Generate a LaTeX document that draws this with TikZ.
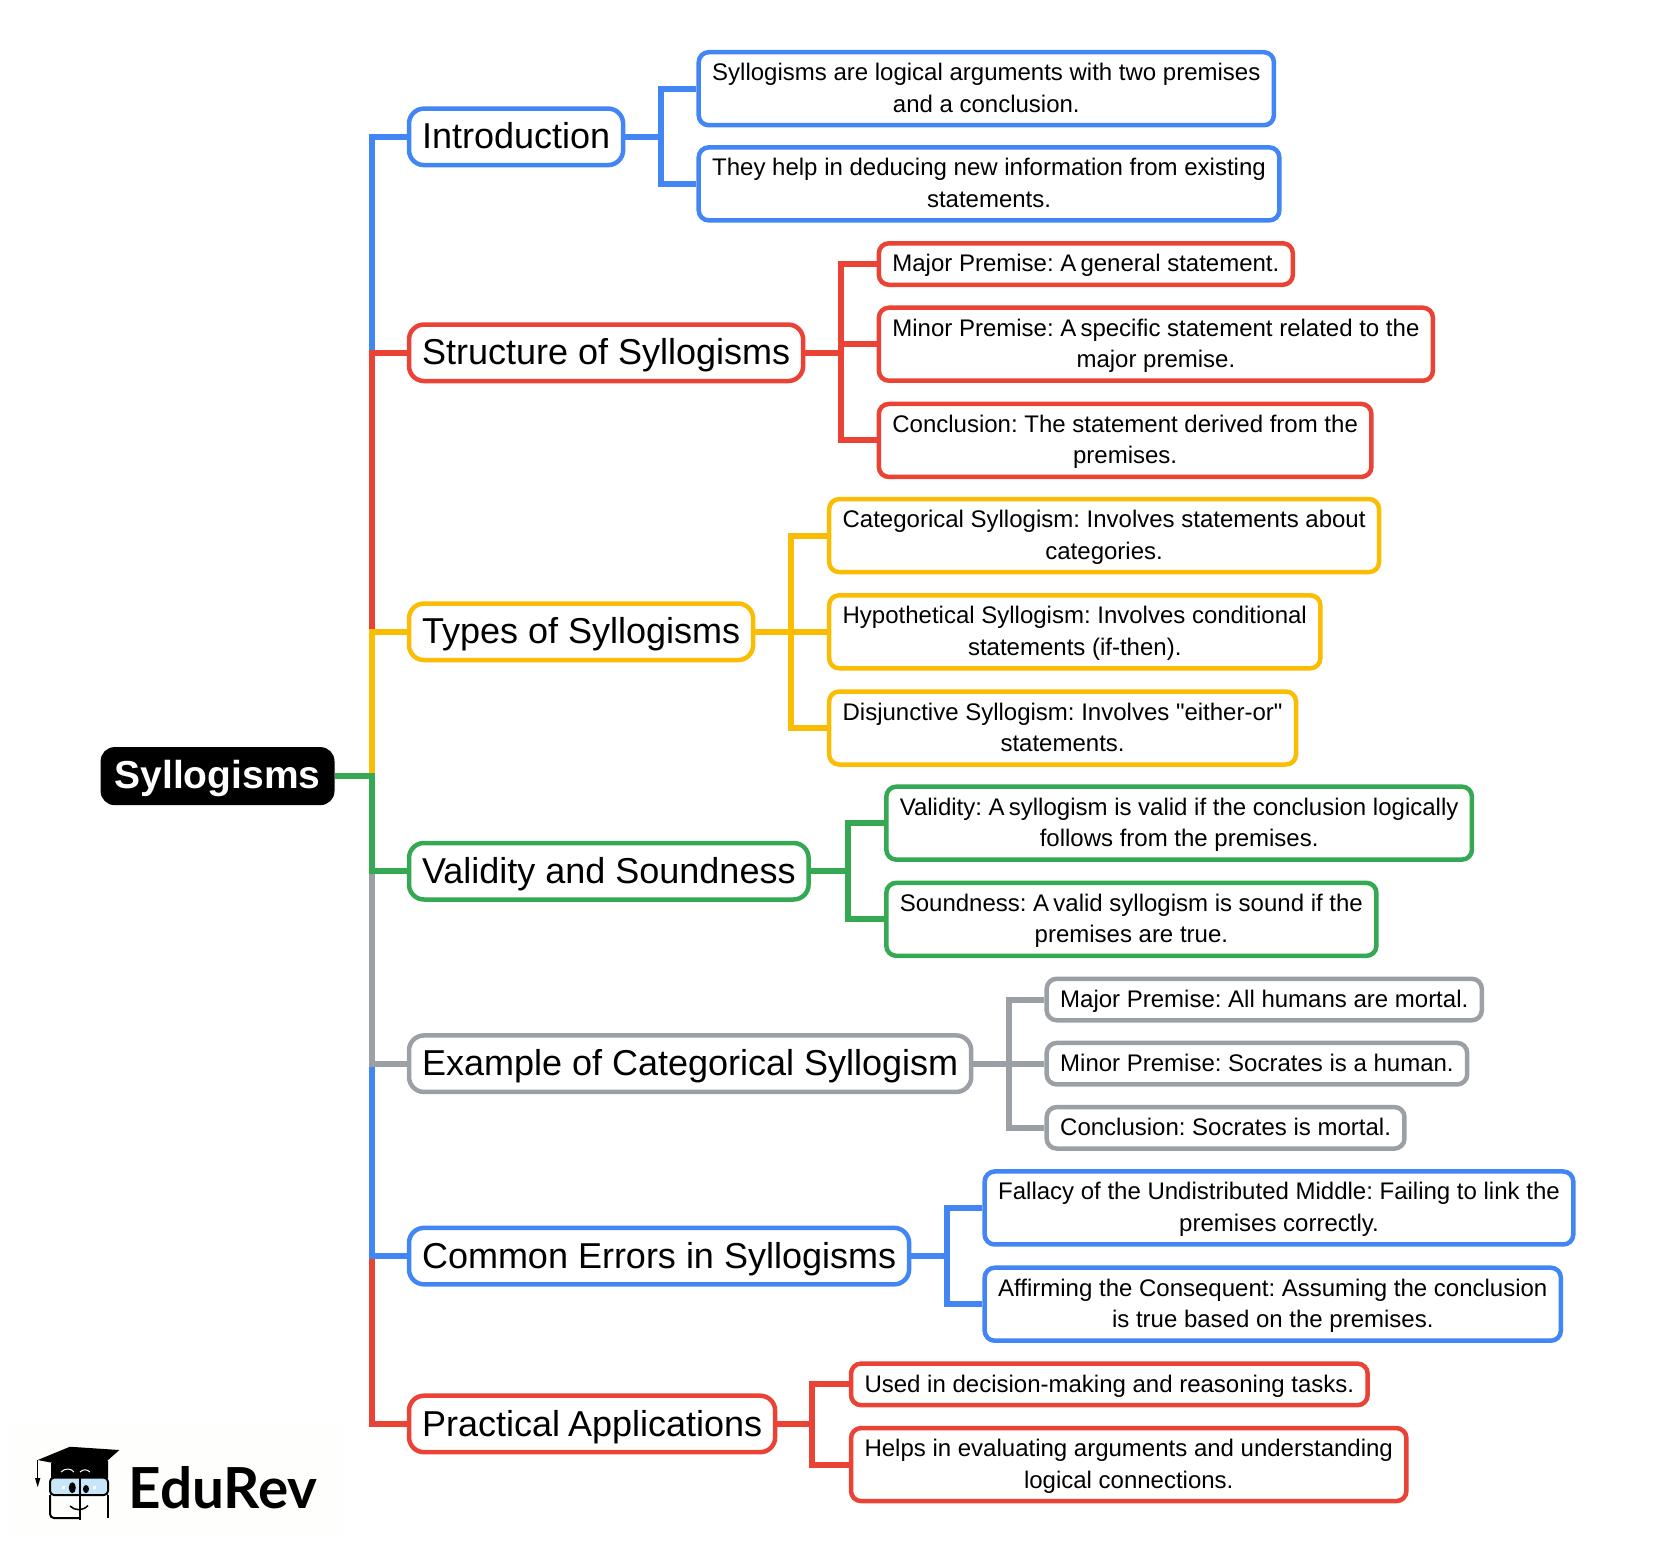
\documentclass[tikz,border=0pt]{standalone}
\usepackage{xcolor}
\usepackage{fontspec}
\setmainfont{Liberation Sans}[Ligatures=TeXOff]
\newfontfamily\logofont{Lato}
\usetikzlibrary{positioning, calc}
\definecolor{mapblue}{RGB}{66,133,244}
\definecolor{mapred}{RGB}{234,67,53}
\definecolor{mapyellow}{RGB}{251,188,4}
\definecolor{mapgreen}{RGB}{52,168,83}
\definecolor{mapgray}{RGB}{154,160,166}
\definecolor{logobg}{RGB}{254,254,253}
\definecolor{glass}{RGB}{200,230,248}
\newcommand{\leafstrut}{\rule[-8pt]{0pt}{31.5pt}}
\newcommand{\leaftext}[1]{\leafstrut #1\leafstrut}
\newcommand{\kernA}{\kern-2.5pt\ }
\tikzset{
  root/.style={rectangle, rounded corners=14pt, fill=black, text=white, inner xsep=14pt, inner ysep=0pt, minimum height=58pt, text height=30pt, text depth=5.4pt, font=\fontsize{39}{46}\selectfont\bfseries},
  head/.style={rectangle, rounded corners=15pt, draw=#1, fill=white, line width=4.5pt, anchor=west, inner xsep=13pt, inner ysep=0pt, minimum height=56.5pt, text height=30.5pt, text depth=6.3pt, font=\fontsize{36}{43}\selectfont},
  leaf/.style={rectangle, rounded corners=10pt, draw=#1, fill=white, line width=4.5pt, anchor=west, inner xsep=13.5pt, inner ysep=5pt, align=center, font=\fontsize{24}{31.5}\selectfont\frenchspacing},
  conn/.style={draw=#1, line width=6pt},
}
\begin{document}
\begin{tikzpicture}[x=1.069pt, y=-1.069pt]
\useasboundingbox (0,0) rectangle (1567.8,1452.8);

% Central node
\node[root] (center) at (203.5,726) {Syllogisms};

% Main topics
\node[head=mapblue] (intro) at (380.5,128) {Introduction};
\node[head=mapred] (struct) at (380.5,330) {Structure of Syllogisms};
\node[head=mapyellow] (types) at (380.5,591) {Types of Syllogisms};
\node[head=mapgreen] (valid) at (380.5,815) {Validity and Soundness};
\node[head=mapgray] (example) at (380.5,995) {Example of Categorical Syllogism};
\node[head=mapblue] (errors) at (380.5,1175) {Common Errors in Syllogisms};
\node[head=mapred] (apps) at (380.5,1332) {Practical \kern-2pt Applications};

% Details
\node[leaf=mapblue] (intro1) at (651.5,83) {\leaftext{Syllogisms are logical arguments with two premises\\and a conclusion.}};
\node[leaf=mapblue] (intro2) at (651.5,172) {\leaftext{They help in deducing new information from existing\\statements.}};

\node[leaf=mapred] (struct1) at (820,247) {\leaftext{Major Premise: A\kernA general statement.}};
\node[leaf=mapred] (struct2) at (820,322) {\leaftext{Minor Premise: A\kernA specific statement related to the\\major premise.}};
\node[leaf=mapred] (struct3) at (820,412) {\leaftext{Conclusion: The statement derived from the\\premises.}};

\node[leaf=mapyellow] (types1) at (773.5,501) {\leaftext{Categorical Syllogism: Involves statements about\\categories.}};
\node[leaf=mapyellow] (types2) at (773.5,591) {\leaftext{Hypothetical Syllogism: Involves conditional\\statements (if-then).}};
\node[leaf=mapyellow] (types3) at (773.5,681) {\leaftext{Disjunctive Syllogism: Involves "either-or"\\statements.}};

\node[leaf=mapgreen] (valid1) at (827,770) {\leaftext{Validity: A\kernA syllogism is valid if the conclusion logically\\follows from the premises.}};
\node[leaf=mapgreen] (valid2) at (827,860) {\leaftext{Soundness: A\kernA valid syllogism is sound if the\\premises are true.}};

\node[leaf=mapgray] (example1) at (977,935) {\leaftext{Major Premise: All humans are mortal.}};
\node[leaf=mapgray] (example2) at (977,995) {\leaftext{Minor Premise: Socrates is a human.}};
\node[leaf=mapgray] (example3) at (977,1055) {\leaftext{Conclusion: Socrates is mortal.}};

\node[leaf=mapblue] (errors1) at (919,1130) {\leaftext{Fallacy of the Undistributed Middle: Failing to link the\\premises correctly.}};
\node[leaf=mapblue] (errors2) at (919,1220) {\leaftext{Affirming the Consequent: Assuming the conclusion\\is true based on the premises.}};

\node[leaf=mapred] (apps1) at (794,1295) {\leaftext{Used in decision-making and reasoning tasks.}};
\node[leaf=mapred] (apps2) at (794,1370) {\leaftext{Helps in evaluating arguments and understanding\\logical connections.}};

% Trunk, the last colour drawn stays on top
\coordinate (trunk) at (348,726);
\draw[conn=mapblue] (center.east) -- (trunk) |- (intro.west);
\draw[conn=mapred] (center.east) -- (trunk) |- (struct.west);
\draw[conn=mapyellow] (center.east) -- (trunk) |- (types.west);
\draw[conn=mapred] (center.east) -- (trunk) |- (apps.west);
\draw[conn=mapblue] (center.east) -- (trunk) |- (errors.west);
\draw[conn=mapgray] (center.east) -- (trunk) |- (example.west);
\draw[conn=mapgreen] (center.east) -- (trunk) |- (valid.west);

% Branches
\coordinate (introspine) at (618,128);
\foreach \i in {1,2} \draw[conn=mapblue] (intro.east) -- (introspine) |- (intro\i.west);

\coordinate (structspine) at (787,330);
\foreach \i in {1,2,3} \draw[conn=mapred] (struct.east) -- (structspine) |- (struct\i.west);

\coordinate (typesspine) at (740,591);
\foreach \i in {1,2,3} \draw[conn=mapyellow] (types.east) -- (typesspine) |- (types\i.west);

\coordinate (validspine) at (793,815);
\foreach \i in {1,2} \draw[conn=mapgreen] (valid.east) -- (validspine) |- (valid\i.west);

\coordinate (examplespine) at (944,995);
\foreach \i in {1,2,3} \draw[conn=mapgray] (example.east) -- (examplespine) |- (example\i.west);

\coordinate (errorsspine) at (886,1175);
\foreach \i in {1,2} \draw[conn=mapblue] (errors.east) -- (errorsspine) |- (errors\i.west);

\coordinate (appsspine) at (760,1332);
\foreach \i in {1,2} \draw[conn=mapred] (apps.east) -- (appsspine) |- (apps\i.west);

% Logo
\begin{scope}[x=1pt, y=-1pt]
\fill[logobg] (10,1425) rectangle (343,1537);
\fill (37.7,1460) -- (70,1446.7) -- (119.3,1450) -- (95.7,1471) -- cycle;
\fill (51,1463) -- (108,1461) -- (108,1478) -- (51,1478) -- cycle;
\draw[white, line width=1pt] (61,1472) .. controls (65,1468) and (71,1468) .. (74,1472);
\draw[white, line width=1pt] (80,1472) .. controls (83,1469) and (87,1469) .. (90,1472);
\draw[line width=1.2pt] (37.7,1460) -- (37.7,1478);
\fill (35,1478) -- (40.4,1478) -- (37.7,1487) -- cycle;
\draw[line width=2pt, fill=glass, rounded corners=4pt] (50,1477.7) rectangle (108,1495);
\draw[line width=2pt, rounded corners=4pt] (50,1495) -- (50,1518) -- (79,1518);
\draw[line width=2pt, rounded corners=4pt] (108,1495) -- (108,1518);
\draw[line width=2pt] (79.5,1477) -- (79.5,1520);
\fill (72.3,1487.7) ellipse (3.5 and 5.5);
\fill (86,1489) ellipse (3 and 4);
\fill[white] (62,1486) rectangle (65,1489);
\fill[white] (93,1486) rectangle (96,1489);
\draw[line width=1.5pt] (70,1506) .. controls (75,1511) and (83,1511) .. (88,1505.5);
\node[anchor=base west, inner sep=0pt, font=\fontsize{56.6}{60}\logofont\bfseries] (logo) at (128.5,1508) {EduRev};
\end{scope}
\end{tikzpicture}
\end{document}
